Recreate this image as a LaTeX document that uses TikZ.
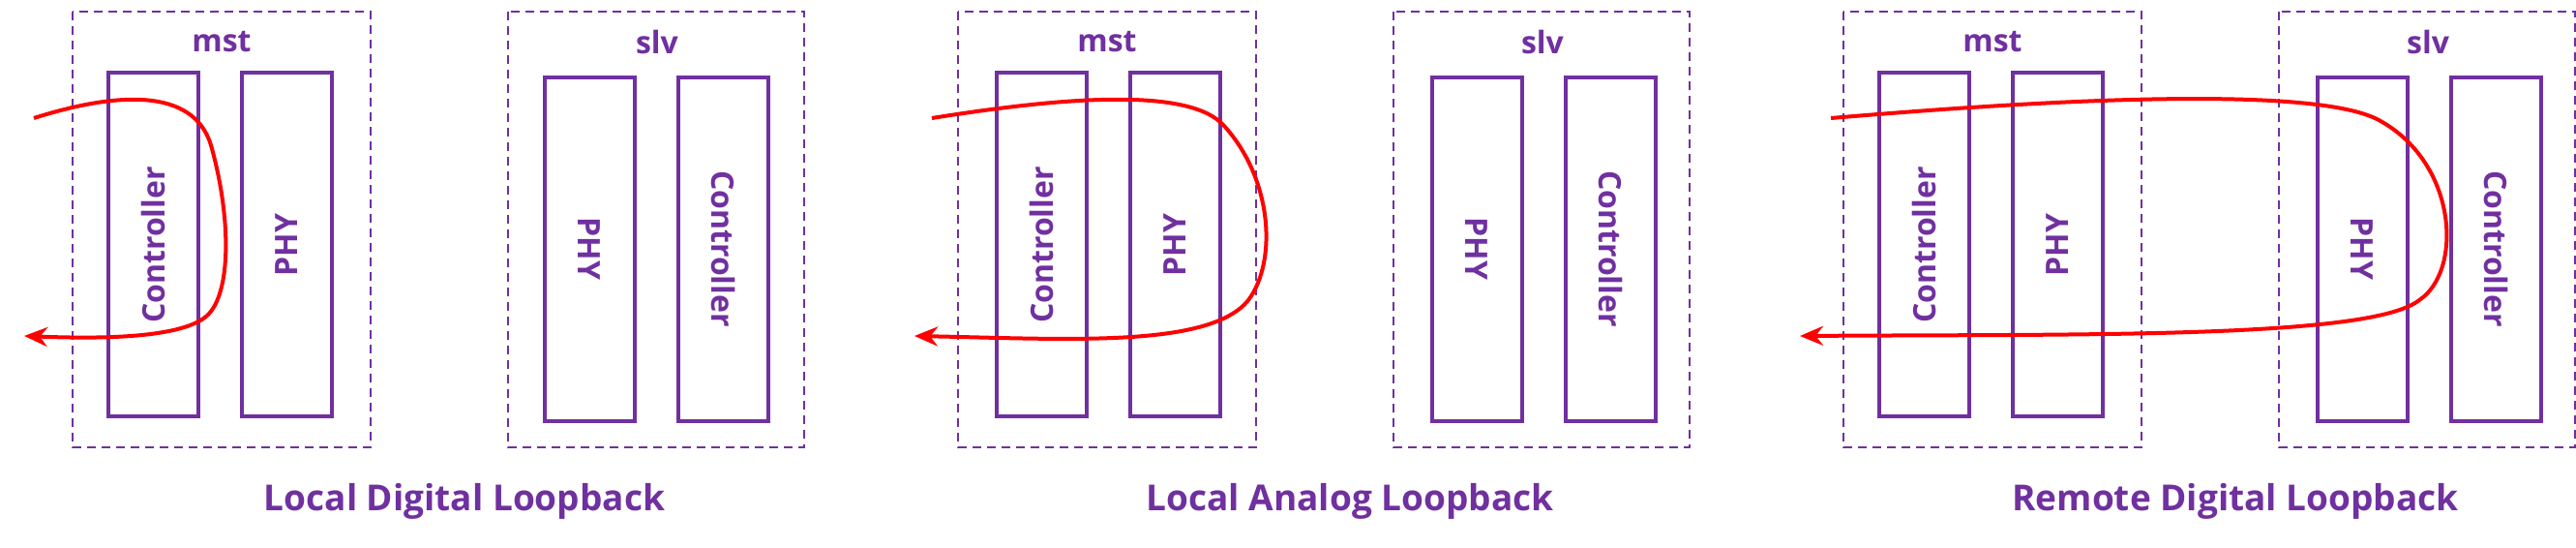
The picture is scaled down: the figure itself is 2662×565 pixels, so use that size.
\documentclass[tikz,border=0pt]{standalone}
\usepackage{fontspec}
\setmainfont{Open Sans}
\usetikzlibrary{arrows.meta}
\definecolor{pur}{HTML}{7030A0}
\tikzset{
  outer/.style={draw=pur,line width=2.5pt,dash pattern=on 9pt off 6pt},
  inner/.style={draw=pur,line width=3.5pt},
  lbl/.style={text=pur,font=\bfseries\fontsize{32}{36}\selectfont},
  big/.style={text=pur,font=\bfseries\fontsize{37}{42}\selectfont},
  loop/.style={draw=red,line width=4pt,-{Stealth[length=24pt,width=20pt]}}
}
\begin{document}
\begin{tikzpicture}[x=1pt,y=-1pt]
\useasboundingbox (0,0) rectangle (2662,565);
\foreach \n/\x in {a/75,b/990,c/1905}{
  \draw[outer] (\x,12) rectangle ++(308,450);
  \node[lbl] (mst\n) at (\x+154,43) {mst};
}
\foreach \n/\x in {a/525,b/1440,c/2355}{
  \draw[outer] (\x,12) rectangle ++(306,450);
  \node[lbl] (slv\n) at (\x+154,43) {slv};
}
\foreach \n/\x in {a/112,b/1030,c/1942}{
  \draw[inner] (\x,75) rectangle ++(93,355);
  \node[lbl,rotate=90] (mc\n) at (\x+46,253) {Controller};
  \draw[inner] (\x+138,75) rectangle ++(93,355);
  \node[lbl,rotate=90] (mp\n) at (\x+184,253) {PHY};
}
\foreach \n/\x in {a/563,b/1480,c/2395}{
  \draw[inner] (\x,80) rectangle ++(93,355);
  \node[lbl,rotate=-90] (sp\n) at (\x+46,257) {PHY};
  \draw[inner] (\x+138,80) rectangle ++(93,355);
  \node[lbl,rotate=-90] (sc\n) at (\x+184,257) {Controller};
}
\node[big] (t1) at (480,518) {Local Digital Loopback};
\node[big] (t2) at (1395,518) {Local Analog Loopback};
\node[big] (t3) at (2310,518) {Remote Digital Loopback};
\coordinate (s1) at (35,122); \coordinate (e1) at (25,347);
\draw[loop] (s1) .. controls (120,95) and (200,90) .. (218,150)
  .. controls (238,220) and (240,300) .. (215,325)
  .. controls (190,350) and (100,350) .. (e1);
\coordinate (s2) at (963,122); \coordinate (e2) at (945,347);
\draw[loop] (s2) .. controls (1100,100) and (1230,90) .. (1265,130)
  .. controls (1315,185) and (1320,270) .. (1290,310)
  .. controls (1250,360) and (1100,350) .. (e2);
\coordinate (s3) at (1892,122); \coordinate (e3) at (1860,347);
\draw[loop] (s3) .. controls (2150,100) and (2400,90) .. (2460,125)
  .. controls (2540,170) and (2545,280) .. (2500,310)
  .. controls (2450,350) and (2150,345) .. (e3);
\end{tikzpicture}
\end{document}
